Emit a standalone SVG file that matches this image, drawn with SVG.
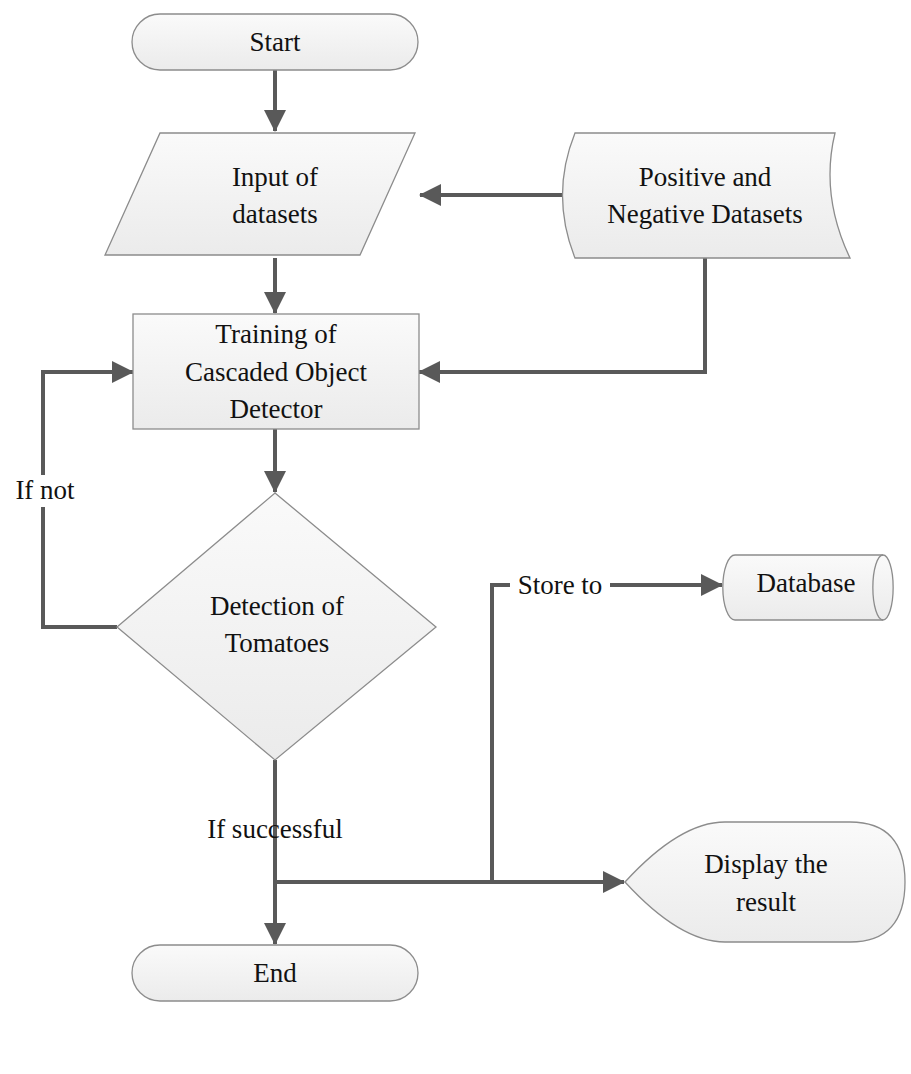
<svg xmlns="http://www.w3.org/2000/svg" width="911" height="1074" viewBox="0 0 911 1074">
<style>
.s{fill:url(#g);stroke:#8c8c8c;stroke-width:1.3}
.t{font-family:"Liberation Serif",serif;font-size:27px;fill:#111;text-anchor:middle}
.c{fill:none;stroke:#595959;stroke-width:4}
</style>
<defs>
<linearGradient id="g" x1="0" y1="0" x2="0" y2="1"><stop offset="0" stop-color="#fafafa"/><stop offset="1" stop-color="#ebebeb"/></linearGradient>
<marker id="a" markerWidth="22" markerHeight="22" refX="21" refY="11" orient="auto" markerUnits="userSpaceOnUse" viewBox="0 0 22 22"><path d="M0,0 L22,11 L0,22 z" fill="#595959"/></marker>
</defs>
<rect width="911" height="1074" fill="#fff"/>
<g id="connectors">
<path class="c" d="M275,70 V131" marker-end="url(#a)"/>
<path class="c" d="M562,195 H420" marker-end="url(#a)"/>
<path class="c" d="M275,258 V313" marker-end="url(#a)"/>
<path class="c" d="M705,258 V372 H419" marker-end="url(#a)"/>
<path class="c" d="M117,627 H43 V372 H133" marker-end="url(#a)"/>
<path class="c" d="M275,429 V492" marker-end="url(#a)"/>
<path class="c" d="M275,760 V944" marker-end="url(#a)"/>
<path class="c" d="M275,882 H624" marker-end="url(#a)"/>
<path class="c" d="M492,882 V585 H722" marker-end="url(#a)"/>
<rect x="8" y="475" width="76" height="32" fill="#fff"/>
<text class="t" x="45" y="499">If not</text>
<text class="t" x="275" y="838">If successful</text>
<rect x="510" y="572" width="100" height="26" fill="#fff"/>
<text class="t" x="560" y="594">Store to</text>
</g>
<g id="start"><rect class="s" x="132" y="14" width="286" height="56" rx="28"/><text class="t" x="275" y="51">Start</text></g>
<g id="input"><path class="s" d="M160,133 H415 L360,255 H105 Z"/><text class="t" x="275" y="186">Input of</text><text class="t" x="275" y="223">datasets</text></g>
<g id="datasets"><path class="s" d="M575,133 H835 Q820,195 850,258 H575 Q550,195 575,133 Z"/><text class="t" x="705" y="186">Positive and</text><text class="t" x="705" y="223">Negative Datasets</text></g>
<g id="training"><rect class="s" x="133" y="314" width="286" height="115"/><text class="t" x="276" y="343">Training of</text><text class="t" x="276" y="381">Cascaded Object</text><text class="t" x="276" y="418">Detector</text></g>
<g id="detection"><path class="s" d="M275,493 L436,627 L275,760 L117,627 Z"/><text class="t" x="277" y="615">Detection of</text><text class="t" x="277" y="652">Tomatoes</text></g>
<g id="database"><path class="s" d="M735,555 H883 A10,32 0 0 1 883,620 H735 A12,32 0 0 1 735,555 Z"/><path d="M883,555 A10,32 0 0 0 883,620" fill="none" stroke="#8c8c8c" stroke-width="1.3"/><text class="t" x="806" y="592">Database</text></g>
<g id="display"><path class="s" d="M625,882 Q680,822 725,822 H850 Q905,822 905,882 Q905,942 850,942 H725 Q680,942 625,882 Z"/><text class="t" x="766" y="873">Display the</text><text class="t" x="766" y="911">result</text></g>
<g id="end"><rect class="s" x="132" y="945" width="286" height="56" rx="28"/><text class="t" x="275" y="982">End</text></g>
</svg>
